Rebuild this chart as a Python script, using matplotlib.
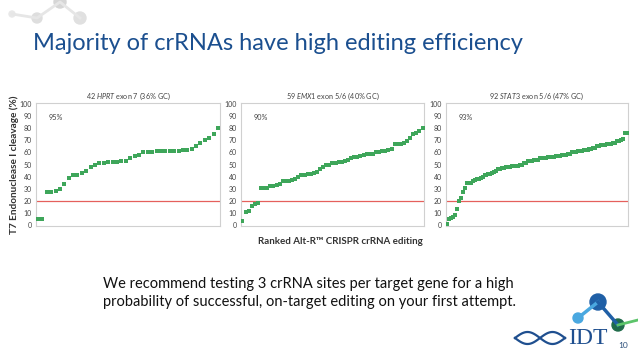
import numpy as np
import matplotlib.pyplot as plt
from matplotlib.patches import Circle
from matplotlib.lines import Line2D

# 数据：每个面板的排序编辑效率 (%)
hprt_vals = [5, 5, 27, 27, 28, 30, 34, 39, 41, 41, 43, 45, 48, 50, 51, 51, 52, 52, 52, 53, 53,
             55, 57, 58, 60, 60, 60, 61, 61, 61, 61, 61, 61, 62, 62, 63, 65, 68, 70, 72, 75, 80]
emx1_vals = [3, 11, 12, 16, 17, 18, 31, 31, 31, 32, 32, 33, 34, 36, 36, 36, 37, 38, 40, 41,
             41, 42, 42, 43, 44, 46, 48, 50, 50, 51, 51, 52, 52, 53, 54, 55, 56, 56, 57, 58,
             59, 59, 59, 60, 60, 61, 61, 62, 63, 67, 67, 67, 68, 69, 72, 75, 76, 78, 80]
stat3_vals = [1, 5, 6, 7, 8, 13, 20, 22, 27, 31, 35, 35, 35, 36, 37, 38, 38, 39, 40, 41,
              41, 42, 42, 43, 44, 45, 46, 46, 47, 47, 48, 48, 48, 49, 49, 49, 49, 50, 50, 51,
              51, 53, 53, 53, 54, 54, 54, 55, 55, 55, 55, 56, 56, 56, 56, 57, 57, 57, 58, 58,
              58, 59, 59, 60, 60, 60, 61, 61, 61, 62, 62, 62, 63, 63, 64, 64, 65, 65, 66, 66,
              66, 67, 67, 67, 68, 68, 69, 69, 70, 71, 76, 76]

panel_titles = [r"42 $\it{HPRT}$ exon 7 (36% GC)",
                r"59 $\it{EMX1}$ exon 5/6 (40% GC)",
                r"92 $\it{STAT3}$ exon 5/6 (47% GC)"]
pct_labels = ["95%", "90%", "93%"]
threshold = 20

W, H = 638, 359
fig = plt.figure(figsize=(W / 100, H / 100), dpi=100)
plt.rcParams['font.family'] = ['Lato', 'DejaVu Sans']
plt.rcParams['mathtext.fontset'] = 'custom'
plt.rcParams['mathtext.it'] = 'Lato:italic'
plt.rcParams['mathtext.rm'] = 'Lato'

# 坐标轴位置 (像素)
boxes = [(36, 220), (241, 424), (446, 628)]
top_px, bot_px = 103, 226
green = '#3ea65a'

for (x0, x1), vals, title, pct in zip(boxes, [hprt_vals, emx1_vals, stat3_vals], panel_titles, pct_labels):
    ax = fig.add_axes([x0 / W, 1 - bot_px / H, (x1 - x0) / W, (bot_px - top_px) / H])
    n = len(vals)
    idx = np.arange(n)
    ax.scatter(idx, vals, marker='s', s=6.5, color=green, linewidths=0, zorder=3)
    ax.axhline(threshold, color='#e5605c', lw=0.9, zorder=2)
    ax.set_xlim(-0.45, n - 0.55)
    ax.set_ylim(-0.8, 100.8)
    ax.set_yticks(range(0, 101, 10))
    ax.set_xticks([])
    ax.tick_params(axis='y', length=0, labelsize=5, labelcolor='#444444', pad=3)
    for s in ax.spines.values():
        s.set_color('#d0d0d0')
        s.set_linewidth(0.8)
    ax.set_title(title, fontsize=5.2, color='#444444', pad=3)
    ax.text(0.07, 0.86, pct, transform=ax.transAxes, fontsize=5.2, color='#444444')

# 纵轴标题
fig.text(14 / W, 1 - 165 / H, "T7 Endonuclease I cleavage (%)", rotation=90,
         ha='center', va='center', fontsize=7.2, fontweight='bold', color='#333333')
# 横轴标题
fig.text(340 / W, 1 - 241 / H, "Ranked Alt-R™ CRISPR crRNA editing",
         ha='center', va='center', fontsize=7, fontweight='bold', color='#333333')

# 幻灯片标题
fig.text(33 / W, 1 - 44 / H, "Majority of crRNAs have high editing efficiency",
         ha='left', va='center', fontsize=17, color='#1b4f8f')

# 说明文字
fig.text(103 / W, 1 - 284 / H, "We recommend testing 3 crRNA sites per target gene for a high",
         ha='left', va='center', fontsize=10.5, color='#111111')
fig.text(103 / W, 1 - 302 / H, "probability of successful, on-target editing on your first attempt.",
         ha='left', va='center', fontsize=10.5, color='#111111')

# 页码
fig.text(623 / W, 1 - 345 / H, "10", ha='center', va='center', fontsize=6, color='#2b4f7a')

# 装饰层
deco = fig.add_axes([0, 0, 1, 1], zorder=-1)
deco.set_xlim(0, W)
deco.set_ylim(H, 0)
deco.axis('off')

# 左上角灰色分子
deco.add_line(Line2D([12, 37, 60, 80], [14, 18, 2, 18], color='#e6e6e6', lw=2))
deco.add_patch(Circle((12, 14), 3, color='#e8e8e8'))
deco.add_patch(Circle((37, 18), 5, color='#dedede'))
deco.add_patch(Circle((60, 2), 6, color='#d6d6d6'))
deco.add_patch(Circle((80, 18), 6, color='#e0e0e0'))

# 右下角 IDT 标志
deco.add_line(Line2D([578, 598], [318, 302], color='#4aa8e0', lw=2.5))
deco.add_line(Line2D([598, 618], [302, 325], color='#1f5fa6', lw=2.5))
deco.add_line(Line2D([618, 638], [325, 320], color='#5cc46a', lw=2))
deco.add_patch(Circle((598, 302), 8, color='#1f5fa6'))
deco.add_patch(Circle((578, 318), 5, color='#4aa8e0'))
deco.add_patch(Circle((618, 325), 6, color='#1f6b4a'))
t = np.linspace(0, 1, 80)
deco.plot(515 + 50 * t, 338 + 6 * np.sin(2 * np.pi * t), color='#1f4f8f', lw=1.6)
deco.plot(515 + 50 * t, 338 - 6 * np.sin(2 * np.pi * t), color='#1f4f8f', lw=1.6)
fig.text(588 / W, 1 - 338 / H, "IDT", ha='center', va='center', fontsize=17,
         family=['Liberation Serif', 'DejaVu Serif'], color='#1f4f8f')

fig.savefig('out.png', dpi=100, facecolor='white')
